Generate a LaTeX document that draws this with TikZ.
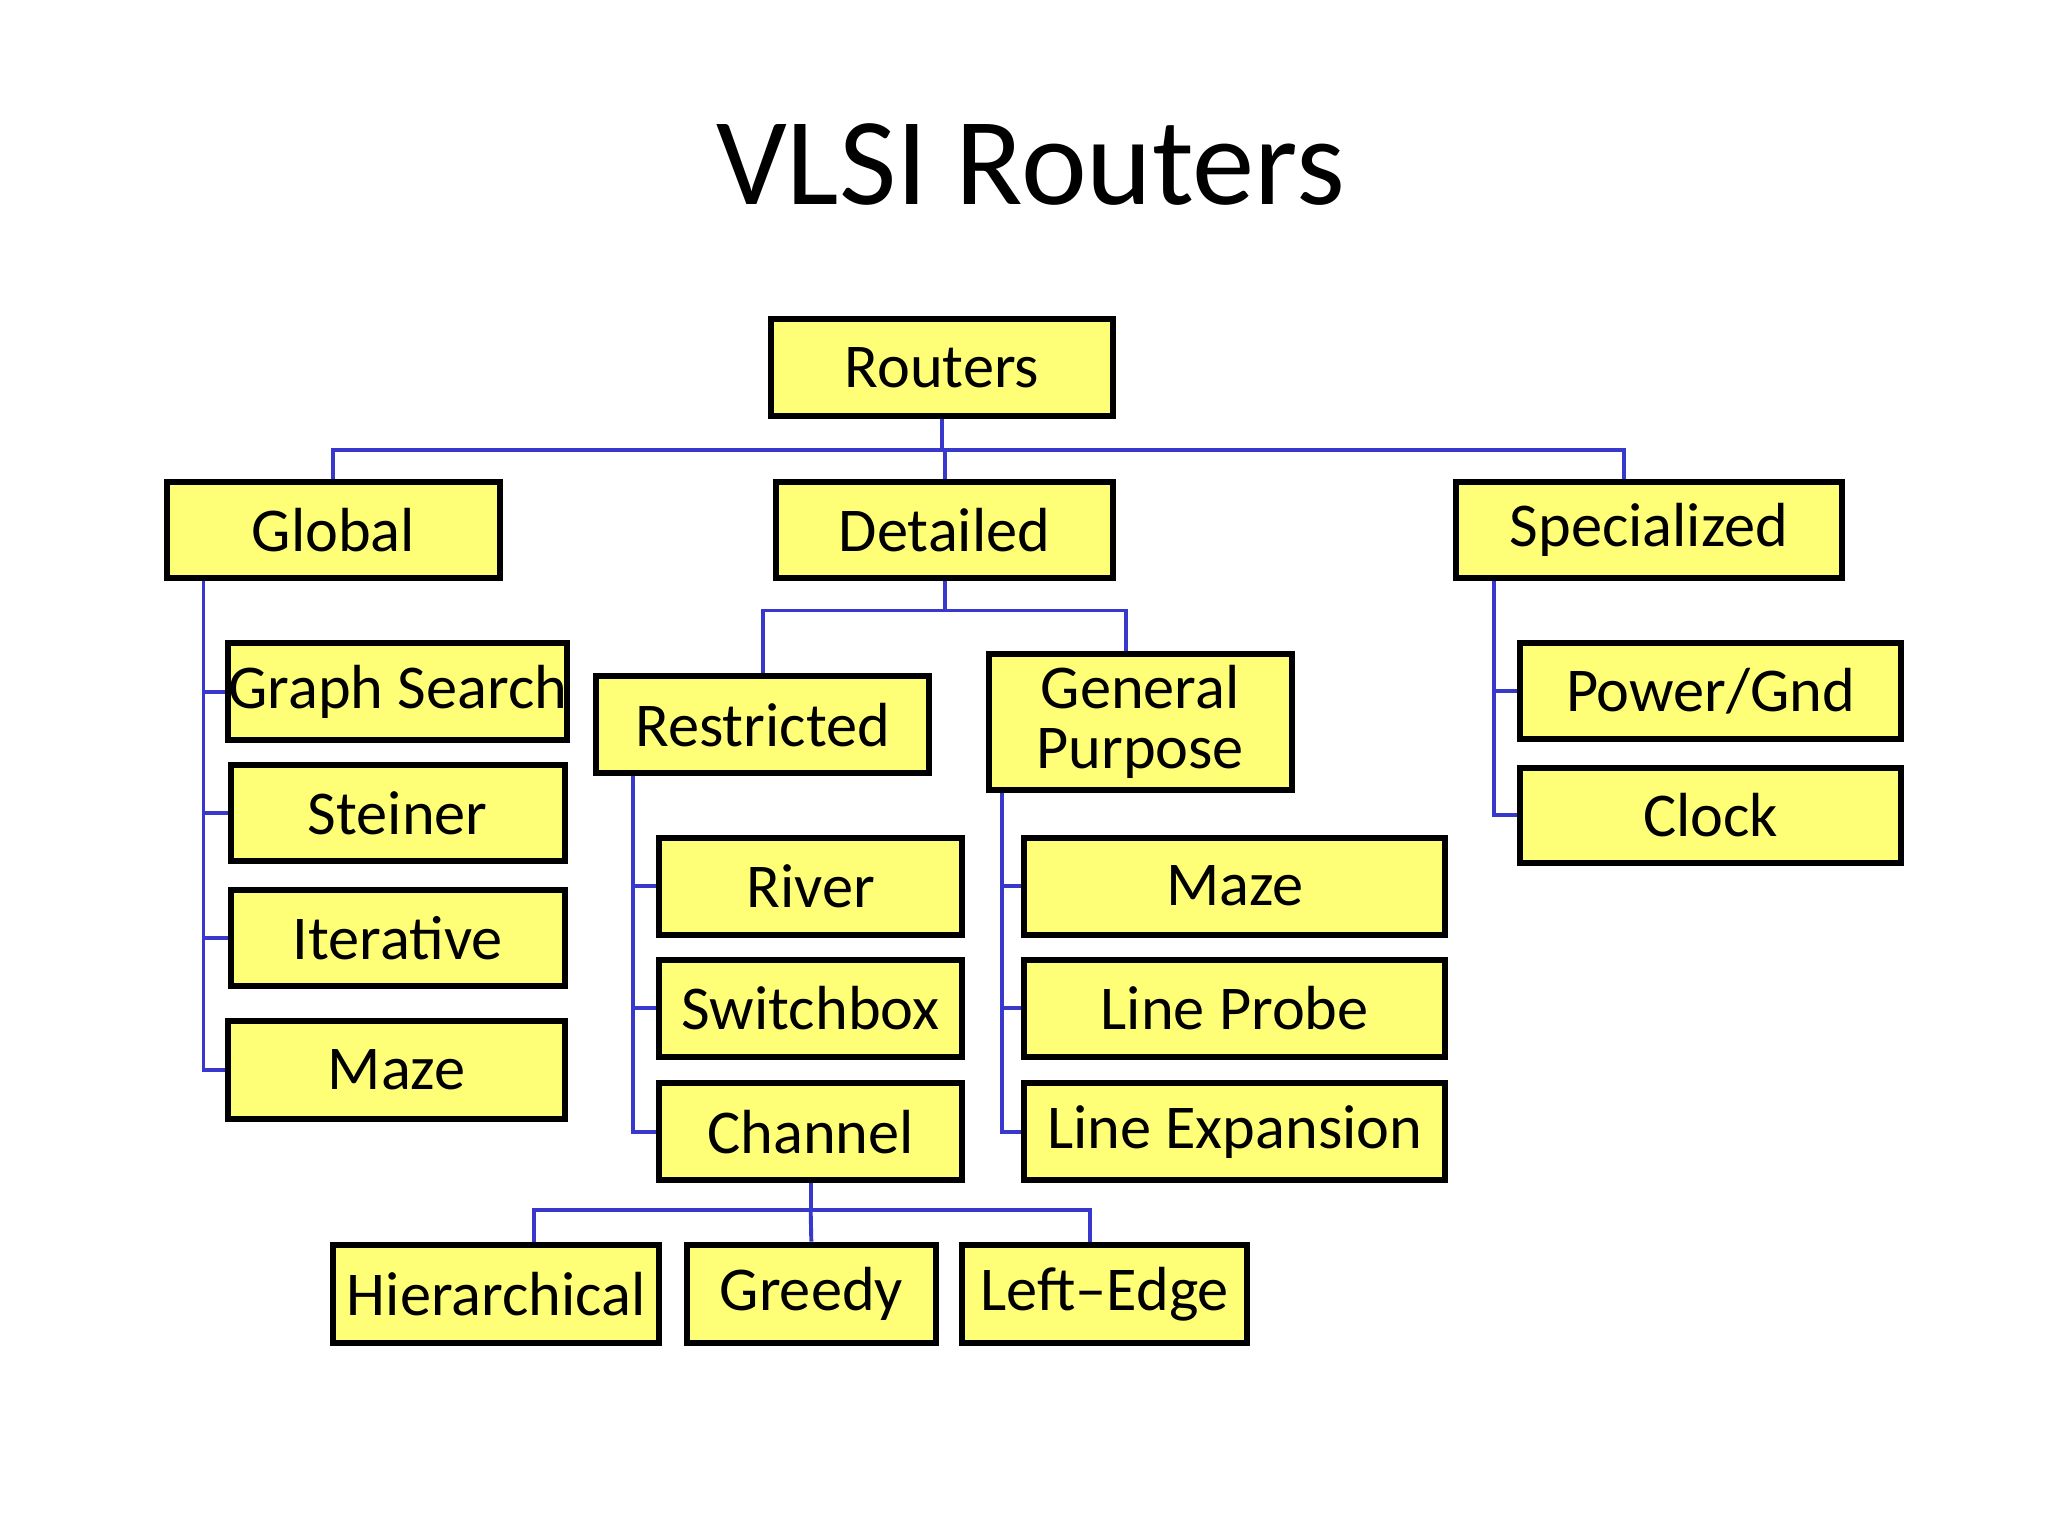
\documentclass[tikz,border=0pt]{standalone}
\usepackage{fontspec}
\setmainfont{Carlito}
\begin{document}
\begin{tikzpicture}[x=0.01cm,y=-0.01cm,
  box/.style={draw=black,line width=1.3pt,fill=yellowbox,inner sep=0pt,font=\fontsize{13.5}{15}\selectfont,align=center},
  con/.style={draw=linkblue,line width=0.85pt}]
\definecolor{yellowbox}{HTML}{FFFF77}
\definecolor{linkblue}{HTML}{3838CC}
\useasboundingbox (0,0) rectangle (1560,1170);
\node[font=\fontsize{27}{30}\selectfont] (title) at (785,125) {VLSI Routers};
\newcommand\bx[6]{\node[box,minimum width={(#3-#2)*0.01cm},minimum height={(#5-#4)*0.01cm}] (#1) at ({(#2+#3)/2},{(#4+#5)/2}) {#6};}
\bx{R}{587}{848}{243}{317}{Routers}
\bx{G}{127}{381}{367}{440}{Global}
\bx{D}{591}{848}{367}{440}{Detailed}
\bx{S}{1109}{1403}{367}{440}{Specialized}
\bx{GS}{176}{430}{490}{564}{Graph Search}
\bx{St}{176}{430}{583}{656}{Steiner}
\bx{It}{176}{430}{678}{751}{Iterative}
\bx{GM}{174}{430}{778}{852}{Maze}
\bx{Re}{454}{708}{515}{589}{Restricted}
\bx{GP}{753}{984}{498}{602}{General\\[-2pt]Purpose}
\bx{PG}{1158}{1448}{490}{563}{Power/Gnd}
\bx{Cl}{1158}{1448}{585}{657}{Clock}
\bx{Ri}{502}{733}{638}{712}{River}
\bx{Sw}{502}{733}{731}{805}{Switchbox}
\bx{Ch}{502}{733}{825}{899}{Channel}
\bx{DM}{780}{1101}{638}{712}{Maze}
\bx{LP}{780}{1101}{731}{805}{Line Probe}
\bx{LE}{780}{1101}{825}{899}{Line Expansion}
\bx{Hi}{254}{502}{948}{1023}{Hierarchical}
\bx{Gr}{523}{713}{948}{1023}{Greedy}
\bx{LEd}{733}{950}{948}{1023}{Left–Edge}
\coordinate (j1) at (R.south |- 0,343);
\coordinate (j2) at (D.south |- 0,465);
\coordinate (j3) at (Ch.south |- 0,922);
\draw[con] (R.south) -- (j1);
\draw[con] (G.north) |- (j1) -| (S.north -| 1237,0);
\draw[con] (D.north |- j1) -- (D.north);
\draw[con] (D.south) -- (j2);
\draw[con] (Re.north) |- (j2) -| (GP.north -| 858,0);
\draw[con] (Ch.south) -- (j3);
\draw[con] (Hi.north -| 407,0) |- (j3) -| (LEd.north -| 830,0);
\draw[con] (j3) -- (Gr.north);
\draw[con] (G.south -| 155,0) |- (GM.west);
\foreach \n in {GS,St,It} \draw[con] (\n.west -| 155,0) -- (\n.west);
\draw[con] (S.south -| 1138,0) |- (Cl.west);
\draw[con] (PG.west -| 1138,0) -- (PG.west);
\draw[con] (Re.south -| 482,0) |- (Ch.west);
\foreach \n in {Ri,Sw} \draw[con] (\n.west -| 482,0) -- (\n.west);
\draw[con] (GP.south -| 763,0) |- (LE.west);
\foreach \n in {DM,LP} \draw[con] (\n.west -| 763,0) -- (\n.west);
\end{tikzpicture}
\end{document}
